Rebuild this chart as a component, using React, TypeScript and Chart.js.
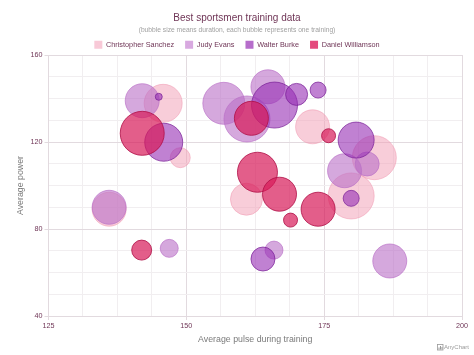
import React, { useEffect, useRef } from 'react';
import { Chart, registerables } from 'chart.js';

Chart.register(...registerables);

const TITLE = 'Best sportsmen training data';
const SUBTITLE = '(bubble size means duration, each bubble represents one training)';
const X_TITLE = 'Average pulse during training';
const Y_TITLE = 'Average power';
const CREDIT = 'AnyChart';

const SERIES_NAMES = ['Christopher Sanchez', 'Judy Evans', 'Walter Burke', 'Daniel Williamson'];

const X_MIN = 125;
const X_MAX = 200;
const X_LABELS = [125, 150, 175, 200];
const Y_MIN = 40;
const Y_MAX = 160;
const Y_LABELS = [40, 80, 120, 160];

// Christopher Sanchez
const CHRIS_X = [145.8, 148.9, 172.9, 184.1, 179.9, 160.9, 136.0];
const CHRIS_Y = [137.8, 112.8, 127.0, 112.8, 95.2, 93.7, 89.1];
const CHRIS_R = [19, 10, 17, 22, 23, 16, 17];

// Judy Evans
const JUDY_X = [142.0, 156.8, 161.0, 164.8, 182.8, 178.7, 165.9, 136.0, 146.9, 186.9];
const JUDY_Y = [139.0, 137.8, 130.6, 145.4, 109.9, 106.8, 70.3, 90.0, 71.1, 65.3];
const JUDY_R = [17, 21, 23, 17, 12, 17, 9, 17, 9, 17];

// Walter Burke
const WALTER_X = [145.0, 145.9, 166.0, 170.0, 173.9, 180.8, 179.9, 163.9];
const WALTER_Y = [140.8, 119.9, 137.0, 141.9, 143.9, 120.9, 94.1, 66.2];
const WALTER_R = [3.5, 19, 23, 11, 8, 18, 8, 12];

// Daniel Williamson
const DANIEL_X = [142.0, 161.8, 175.8, 173.9, 162.9, 166.9, 168.9, 141.9];
const DANIEL_Y = [124.0, 130.9, 122.9, 89.1, 106.1, 96.0, 84.1, 70.3];
const DANIEL_R = [22, 17, 7, 17, 20, 17, 7, 10];

const FILLS = ['rgba(241,155,179,0.5)', 'rgba(185,110,198,0.6)', 'rgba(150,45,180,0.6)', 'rgba(215,25,88,0.7)'];
const BORDERS = ['rgba(241,155,179,0.55)', 'rgba(185,110,198,0.65)', 'rgba(120,30,150,0.7)', 'rgba(175,15,70,0.8)'];
const LEGEND_COLORS = ['#f8c9d7', '#d8a9e0', '#b66dcb', '#e44a7d'];

const TEXT_DARK = '#6f3556';
const TEXT_GRAY = '#7a7a7a';
const SUB_GRAY = '#a0a0a0';
const GRID_MAJOR = '#e2dadf';
const GRID_MINOR = '#f1eef0';
const FONT = '"Liberation Sans", Arial, sans-serif';

const LEGEND_HEIGHT = 25.3;

function pts(xs: number[], ys: number[], rs: number[]) {
  return xs.map((x, i) => ({ x, y: ys[i], r: rs[i] }));
}

const isMajor = (v: number, step: number) => Math.abs(v % step) < 1e-6;

const legendHeightPlugin = {
  id: 'legendHeight',
  beforeLayout(chart: any) {
    const lg = chart.legend;
    if (lg && !lg.__patched) {
      const orig = lg.fit;
      lg.fit = function () {
        orig.call(this);
        this.height = LEGEND_HEIGHT;
      };
      lg.__patched = true;
    }
  },
};

const creditPlugin = {
  id: 'credit',
  afterDraw(chart: any) {
    const ctx = chart.ctx;
    ctx.save();
    ctx.strokeStyle = '#9a9a9a';
    ctx.fillStyle = '#9a9a9a';
    ctx.lineWidth = 0.8;
    ctx.strokeRect(437.5, 344.5, 5.5, 5.5);
    ctx.fillRect(438.5, 347.5, 1, 2);
    ctx.fillRect(440, 346, 1, 3.5);
    ctx.fillRect(441.5, 347, 1, 2.5);
    ctx.font = `6px ${FONT}`;
    ctx.textAlign = 'left';
    ctx.textBaseline = 'middle';
    ctx.fillText(CREDIT, 444, 347.7);
    ctx.restore();
  },
};

export default function App() {
  const ref = useRef<HTMLCanvasElement | null>(null);

  useEffect(() => {
    if (!ref.current) return;
    const seriesX = [CHRIS_X, JUDY_X, WALTER_X, DANIEL_X];
    const seriesY = [CHRIS_Y, JUDY_Y, WALTER_Y, DANIEL_Y];
    const seriesR = [CHRIS_R, JUDY_R, WALTER_R, DANIEL_R];
    const chart = new Chart(ref.current, {
      type: 'bubble',
      data: {
        datasets: SERIES_NAMES.map((name, i) => ({
          label: name,
          data: pts(seriesX[i], seriesY[i], seriesR[i]),
          backgroundColor: FILLS[i],
          borderColor: BORDERS[i],
          borderWidth: 1,
          order: 4 - i,
        })),
      },
      options: {
        responsive: false,
        animation: false,
        events: [],
        layout: { padding: 0, autoPadding: false },
        font: { family: FONT },
        plugins: {
          title: {
            display: true,
            text: TITLE,
            color: TEXT_DARK,
            font: { family: FONT, size: 10, weight: 'normal', lineHeight: 1.2 },
            padding: { top: 12, bottom: 0 },
          },
          subtitle: {
            display: true,
            text: SUBTITLE,
            color: SUB_GRAY,
            font: { family: FONT, size: 6.7, weight: 'normal', lineHeight: 1.2 },
            padding: { top: 2.5, bottom: -4.8 },
          },
          legend: {
            display: true,
            position: 'top',
            labels: {
              boxWidth: 8,
              boxHeight: 8,
              padding: 11,
              color: TEXT_DARK,
              font: { family: FONT, size: 7.3 },
              generateLabels: () =>
                SERIES_NAMES.map((name, i) => ({
                  text: name,
                  fillStyle: LEGEND_COLORS[i],
                  strokeStyle: LEGEND_COLORS[i],
                  lineWidth: 0,
                  hidden: false,
                  datasetIndex: i,
                  fontColor: TEXT_DARK,
                })),
            },
          },
          tooltip: { enabled: false },
        },
        scales: {
          x: {
            type: 'linear',
            min: X_MIN,
            max: X_MAX,
            afterFit: (s: any) => {
              s.height = 39;
            },
            border: { display: true, color: GRID_MAJOR, width: 1 },
            grid: {
              color: (c: any) => (isMajor(c.tick?.value ?? 0, 25) ? GRID_MAJOR : GRID_MINOR),
              tickColor: (c: any) => (isMajor(c.tick?.value ?? 0, 25) ? GRID_MAJOR : 'rgba(0,0,0,0)'),
              tickLength: 4,
            },
            ticks: {
              stepSize: 6.25,
              autoSkip: false,
              maxRotation: 0,
              padding: 2,
              color: TEXT_DARK,
              font: { family: FONT, size: 7.2 },
              callback: (v: any) => (X_LABELS.includes(Number(v)) ? String(v) : ''),
            },
            title: {
              display: true,
              text: X_TITLE,
              color: TEXT_GRAY,
              font: { family: FONT, size: 8.8, lineHeight: 1.2 },
              padding: { top: 0, bottom: 9.7 },
            },
          },
          y: {
            type: 'linear',
            min: Y_MIN,
            max: Y_MAX,
            afterFit: (s: any) => {
              s.width = 48.5;
            },
            border: { display: true, color: GRID_MAJOR, width: 1 },
            grid: {
              color: (c: any) => (isMajor(c.tick?.value ?? 0, 40) ? GRID_MAJOR : GRID_MINOR),
              tickColor: (c: any) => (isMajor(c.tick?.value ?? 0, 40) ? GRID_MAJOR : 'rgba(0,0,0,0)'),
              tickLength: 4,
            },
            ticks: {
              stepSize: 10,
              autoSkip: false,
              padding: 2,
              color: TEXT_DARK,
              font: { family: FONT, size: 7.2 },
              callback: (v: any) => (Y_LABELS.includes(Number(v)) ? String(v) : ''),
            },
            title: {
              display: true,
              text: Y_TITLE,
              color: TEXT_GRAY,
              font: { family: FONT, size: 8.8, lineHeight: 1.2 },
              padding: { top: 15.7, bottom: 0 },
            },
          },
          yRight: {
            type: 'linear',
            position: 'right',
            display: true,
            afterFit: (s: any) => {
              s.width = 12;
            },
            border: { display: false },
            grid: { display: false, drawTicks: false },
            ticks: { display: false },
          },
        },
      } as any,
      plugins: [legendHeightPlugin, creditPlugin] as any,
    });
    return () => chart.destroy();
  }, []);

  return (
    <div style={{ position: 'fixed', left: 0, top: 0, width: 474, height: 355, background: '#fff' }}>
      <canvas ref={ref} width={474} height={355} style={{ display: 'block', width: 474, height: 355 }} />
    </div>
  );
}
